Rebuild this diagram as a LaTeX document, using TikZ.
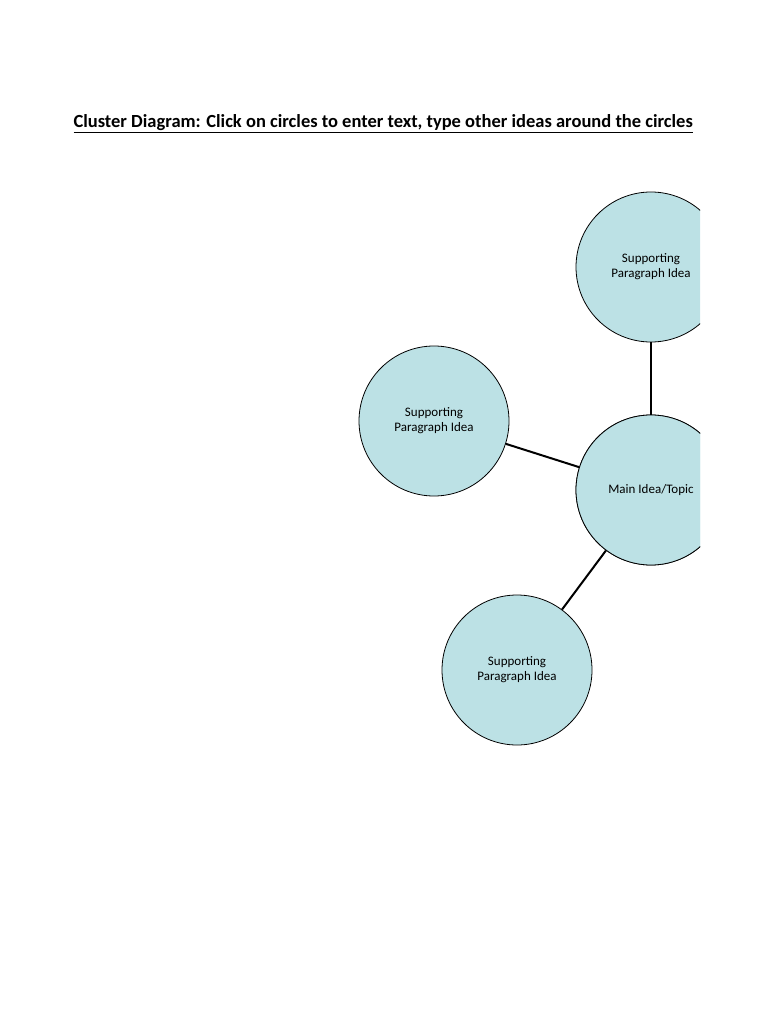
\documentclass[tikz,border=0pt]{standalone}
\usepackage{fontspec}
\setmainfont{Carlito}
\definecolor{cfill}{HTML}{BCE1E5}
\begin{document}
\begin{tikzpicture}[x=1pt,y=-1pt,
  bubble/.style={circle,draw=black,line width=0.8pt,fill=cfill,minimum size=150pt,inner sep=0pt,align=center,font=\fontsize{13}{15}\selectfont},
  link/.style={line width=2pt,black}]
\useasboundingbox (0,0) rectangle (768,1024);
\begin{scope}
\clip (0,0) rectangle (700,1024);
\node[anchor=base west,font=\bfseries\fontsize{18.5}{20}\selectfont] (title) at (70,128) {\underline{Cluster Diagram: Click on circles to enter text, type other ideas around the circles}};
\coordinate (off) at (740,575);
\node[bubble] (main) at (651,490) {Main Idea/Topic};
\draw[link] (main) -- (off);
\node[bubble] (top) at (651,267) {Supporting\\Paragraph Idea};
\node[bubble] (left) at (434,421) {Supporting\\Paragraph Idea};
\node[bubble] (bot) at (517,670) {Supporting\\Paragraph Idea};
\draw[link] (top) -- (main);
\draw[link] (left) -- (main);
\draw[link] (bot) -- (main);
\node[bubble] at (main) {Main Idea/Topic};
\end{scope}
\end{tikzpicture}
\end{document}
